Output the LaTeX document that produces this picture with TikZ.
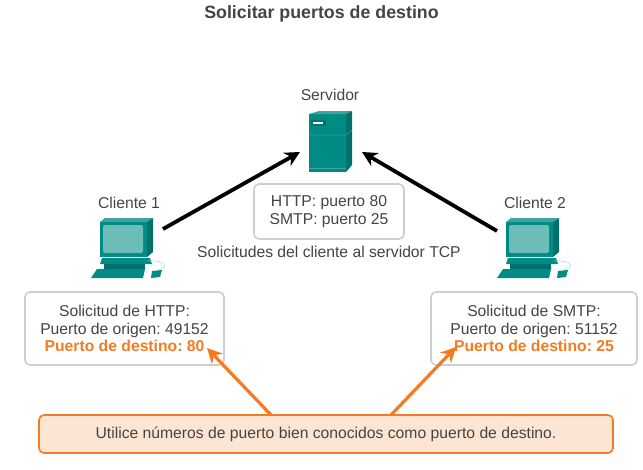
\documentclass[tikz,border=0pt]{standalone}
\usepackage{fontspec}
\setmainfont{Liberation Sans}
\usetikzlibrary{arrows.meta,positioning}
\frenchspacing
\definecolor{txtgray}{HTML}{444444}
\definecolor{boxgray}{HTML}{CFCFCF}
\definecolor{ciscoorange}{HTML}{F47B20}
\definecolor{notefill}{HTML}{FDE5D3}
\definecolor{tealfront}{HTML}{008C84}
\definecolor{tealtop}{HTML}{3FA39D}
\definecolor{tealside}{HTML}{00716B}
\definecolor{tealscreen}{HTML}{6CBDB8}
\tikzset{
  lbl/.style={text=txtgray, font=\fontsize{15.7}{17.5}\selectfont, inner sep=0pt, align=center},
  reqbox/.style={lbl, rectangle, draw=boxgray, line width=1.6pt, rounded corners=5pt, fill=white},
  pc/.pic={
    \fill[tealfront] (100,222) -- (147,222) -- (147,257) -- (100,257) -- cycle;
    \fill[tealtop] (100,222) -- (105,218) -- (153,218) -- (147,222) -- cycle;
    \fill[tealside] (147,222) -- (153,218) -- (153,252) -- (147,257) -- cycle;
    \fill[tealscreen, rounded corners=2pt] (103,225) rectangle (143,253);
    \fill[tealfront] (102,258) -- (150,258) -- (152,264) -- (100,264) -- cycle;
    \fill[tealside] (104,264) rectangle (145,269);
    \fill[tealfront] (97,269) -- (145,269) -- (143,278) -- (91,278) -- cycle;
    \fill[tealfront] (152,271) -- (162,270) -- (160,277) -- (151,278) -- cycle;
    \draw[tealscreen!60, line width=.5pt] (148,261) .. controls (168,260) and (168,268) .. (158,270);
  }
}
\begin{document}
\begin{tikzpicture}[x=1pt, y=-1pt]
  \useasboundingbox (0,0) rectangle (643,469);
  \node[lbl, font=\fontsize{17.8}{20}\selectfont\bfseries] (title) at (321.5,14) {Solicitar puertos de destino};

  % server
  \node[lbl] (server) at (330,95) {Servidor};
  \fill[tealfront] (309,114) -- (346,114) -- (346,172) -- (309,172) -- cycle;
  \fill[tealtop] (309,114) -- (319,111) -- (352,111) -- (346,114) -- cycle;
  \fill[tealside] (346,114) -- (352,111) -- (352,165) -- (346,172) -- cycle;
  \fill[tealside] (311,120) rectangle (326,126);
  \fill[white] (313,122) rectangle (323,124);
  \draw[tealtop, line width=.5pt] (309,135) -- (346,135) -- (352,130);
  \draw[tealtop, line width=.5pt] (309,168) -- (346,168);
  \node[reqbox, minimum width=150pt, minimum height=55pt] (srvbox) at (329,211.5) {HTTP: puerto 80\\SMTP: puerto 25};
  \node[lbl] (reqlabel) at (329,252) {Solicitudes del cliente al servidor TCP};

  % clients
  \node[lbl] (client1) at (129,203) {Cliente 1};
  \pic (pc1) at (0,0) {pc};
  \node[lbl] (client2) at (535,203) {Cliente 2};
  \pic (pc2) at (406,0) {pc};
  \node[reqbox, minimum width=199pt, minimum height=73pt] (box1) at (124.5,328.5) {Solicitud de HTTP:\\Puerto de origen: 49152\\\textcolor{ciscoorange}{\bfseries Puerto de destino: 80}};
  \node[reqbox, minimum width=206pt, minimum height=73pt] (box2) at (534,328.5) {Solicitud de SMTP:\\Puerto de origen: 51152\\\textcolor{ciscoorange}{\bfseries Puerto de destino: 25}};

  % note
  \node[lbl, rectangle, draw=ciscoorange, fill=notefill, line width=1.6pt, rounded corners=5pt, minimum width=574pt, minimum height=38pt] (note) at (326,434) {Utilice números de puerto bien conocidos como puerto de destino.};

  % arrows
  \coordinate (c1out) at (163,229);
  \coordinate (srvin1) at (300,152);
  \coordinate (c2out) at (497,231);
  \coordinate (srvin2) at (362,152);
  \coordinate (noteout1) at (271,415);
  \coordinate (dest1) at (207,348);
  \coordinate (noteout2) at (391,415);
  \coordinate (dest2) at (456,347);
  \draw[-{Stealth[length=15pt,width=15pt]}, line width=3.8pt] (c1out) -- (srvin1);
  \draw[-{Stealth[length=15pt,width=15pt]}, line width=3.8pt] (c2out) -- (srvin2);
  \draw[-{Stealth[length=15pt,width=15pt]}, ciscoorange, line width=3.2pt] (noteout1) -- (dest1);
  \draw[-{Stealth[length=15pt,width=15pt]}, ciscoorange, line width=3.2pt] (noteout2) -- (dest2);
\end{tikzpicture}
\end{document}
